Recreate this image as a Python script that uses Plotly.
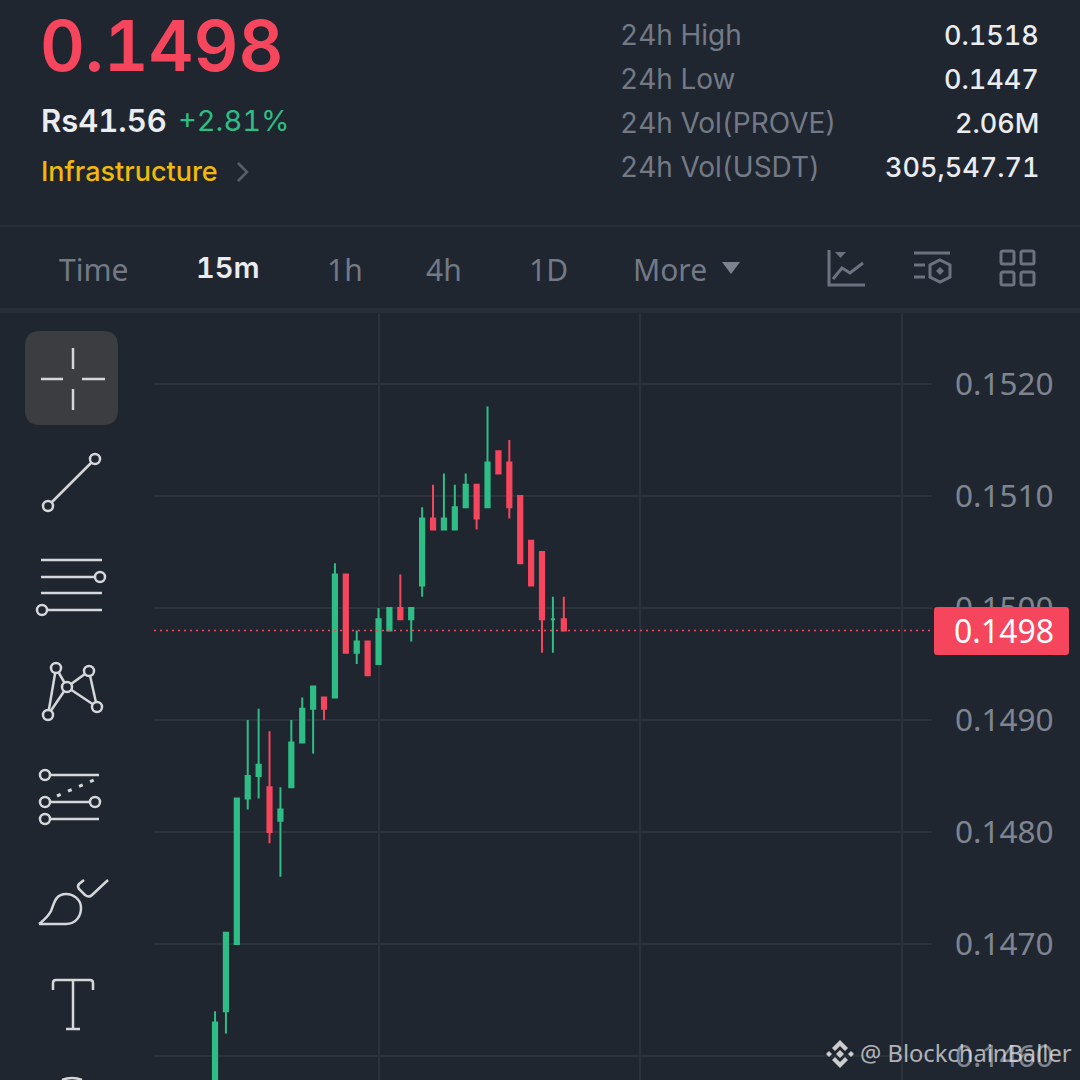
import plotly.graph_objects as go

# candle values (15m PROVE/USDT), oldest first
opens = [0.1455, 0.1464, 0.1470, 0.1483, 0.1485, 0.1484, 0.1481, 0.1484, 0.1488, 0.1491, 0.1492,
         0.1492, 0.1503, 0.1496, 0.1497, 0.1495, 0.1498, 0.1500, 0.1499, 0.1502, 0.1508, 0.1507,
         0.1507, 0.1509, 0.1511, 0.1509, 0.1514, 0.1513, 0.1510, 0.1506, 0.1505, 0.1499, 0.1499]
highs = [0.1464, 0.1471, 0.1483, 0.1490, 0.1491, 0.1489, 0.1484, 0.1490, 0.1492, 0.1493, 0.1492,
         0.1504, 0.1503, 0.1498, 0.1497, 0.1500, 0.1500, 0.1503, 0.1500, 0.1509, 0.1511, 0.1512,
         0.1511, 0.1512, 0.1511, 0.1518, 0.1514, 0.1515, 0.1510, 0.1506, 0.1505, 0.1501, 0.1501]
lows = [0.1452, 0.1462, 0.1470, 0.1482, 0.1483, 0.1479, 0.1476, 0.1484, 0.1488, 0.1487, 0.1490,
        0.1492, 0.1496, 0.1495, 0.1494, 0.1495, 0.1498, 0.1499, 0.1497, 0.1501, 0.1507, 0.1507,
        0.1507, 0.1509, 0.1507, 0.1509, 0.1512, 0.1508, 0.1504, 0.1502, 0.1496, 0.1496, 0.1498]
closes = [0.1463, 0.1471, 0.1483, 0.1485, 0.1486, 0.1480, 0.1482, 0.1488, 0.1491, 0.1493, 0.1491,
          0.1503, 0.1496, 0.1497, 0.1494, 0.1499, 0.1500, 0.1499, 0.1500, 0.1508, 0.1507, 0.1508,
          0.1509, 0.1511, 0.1508, 0.1513, 0.1512, 0.1509, 0.1504, 0.1502, 0.1499, 0.1499, 0.1498]

last_price = 0.1498
price_ticks = [0.1520, 0.1510, 0.1500, 0.1490, 0.1480, 0.1470, 0.1460]
time_grid = [15, 39, 63]

stat_names = ['24h High', '24h Low', '24h Vol(PROVE)', '24h Vol(USDT)']
stat_values = ['0.1518', '0.1447', '2.06M', '305,547.71']
intervals = ['Time', '15m', '1h', '4h', '1D', 'More']

BG = '#1f2630'
GRID = '#2b323c'
UP = '#2ebd85'
DOWN = '#f6465d'
MUTED = '#737a86'
WHITE = '#eaecef'
ICON = '#d5d7da'
TAB_ICON = '#6c7380'
HEAD = 'Inter'
BODY = 'Noto Sans'

up = [i for i in range(len(opens)) if closes[i] >= opens[i]]
down = [i for i in range(len(opens)) if closes[i] < opens[i]]


def candles(idx, color):
    return go.Candlestick(
        x=idx,
        open=[opens[i] for i in idx],
        high=[highs[i] for i in idx],
        low=[lows[i] for i in idx],
        close=[closes[i] for i in idx],
        increasing=dict(line=dict(color=color, width=2), fillcolor=color),
        decreasing=dict(line=dict(color=color, width=2), fillcolor=color),
        showlegend=False,
        hoverinfo='skip',
    )


fig = go.Figure([candles(up, UP), candles(down, DOWN)])

# page pixels to paper coordinates (page is 1080 square, no margins)
def px(x):
    return x / 1080


def py(y):
    return 1 - y / 1080


shapes = []
notes = []


def line(x0, y0, x1, y1, color=ICON, width=2.5, dash=None):
    shapes.append(dict(type='line', xref='paper', yref='paper', x0=px(x0), y0=py(y0), x1=px(x1), y1=py(y1),
                       line=dict(color=color, width=width, dash=dash), layer='above'))


def ring(x, y, r=5, color=ICON, width=2.5):
    shapes.append(dict(type='circle', xref='paper', yref='paper', x0=px(x - r), y0=py(y + r), x1=px(x + r), y1=py(y - r),
                       line=dict(color=color, width=width), fillcolor=BG, layer='above'))


def outline(cmds, color=ICON, width=2.5, fill=None):
    # cmds is a list of (letter, x, y, ...) in page pixels
    parts = []
    for c in cmds:
        nums = c[1:]
        pts = ' '.join(f'{px(nums[k])},{py(nums[k + 1])}' for k in range(0, len(nums), 2))
        parts.append(f'{c[0]} {pts}')
    shapes.append(dict(type='path', xref='paper', yref='paper', path=' '.join(parts),
                       line=dict(color=color, width=width), fillcolor=fill or 'rgba(0,0,0,0)', layer='above'))


def round_rect(x0, y0, x1, y1, r, color, width=0, fill=None):
    outline([('M', x0 + r, y0), ('L', x1 - r, y0), ('Q', x1, y0, x1, y0 + r), ('L', x1, y1 - r),
             ('Q', x1, y1, x1 - r, y1), ('L', x0 + r, y1), ('Q', x0, y1, x0, y1 - r), ('L', x0, y0 + r),
             ('Q', x0, y0, x0 + r, y0), ('Z',)], color, width, fill)


def txt(x, y, text, size, color, anchor='left', family=BODY, weight=400):
    notes.append(dict(xref='paper', yref='paper', x=px(x), y=py(y), text=text, showarrow=False,
                      xanchor=anchor, yanchor='middle', borderpad=0,
                      font=dict(size=size, color=color, family=family, weight=weight)))


# header
txt(39, 46, '0.1498', 69.5, DOWN, family=HEAD, weight=600)
txt(40, 120, 'Rs41.56', 31, WHITE, family=HEAD, weight=600)
txt(177, 120, '+2.81%', 29, UP, family=HEAD)
txt(40, 171, 'Infrastructure', 27, '#f0b90b', family=HEAD, weight=500)
outline([('M', 238, 163), ('L', 247, 172), ('L', 238, 181)], '#5a606b', 2.5)

for k, (name, val) in enumerate(zip(stat_names, stat_values)):
    txt(619, 35 + 44 * k, name, 28, MUTED, family=HEAD)
    txt(1040, 35 + 44 * k, val, 27, WHITE, anchor='right', family=HEAD, weight=500)

line(0, 226, 1080, 226, '#323842', 1)
line(0, 310.5, 1080, 310.5, '#272e38', 5)

# interval tabs
tab_x = [58, 195, 326, 425, 528, 632]
for name, x in zip(intervals, tab_x):
    if name == '15m':
        txt(x, 268, name, 29, WHITE, family=HEAD, weight=600)
    else:
        txt(x, 269, name, 30, MUTED)
outline([('M', 722, 262), ('L', 740, 262), ('L', 731, 274), ('Z',)], '#7c838f', 0, '#7c838f')

# tab icons
outline([('M', 829, 250), ('L', 829, 285), ('L', 865, 285)], TAB_ICON, 3)
outline([('M', 835, 252), ('L', 846, 252), ('L', 840.5, 258), ('Z',)], TAB_ICON, 0, TAB_ICON)
outline([('M', 833, 279), ('L', 842, 268), ('L', 850, 273), ('L', 863, 263)], TAB_ICON, 3)
line(914, 253, 950, 253, TAB_ICON, 3)
line(914, 265, 925, 265, TAB_ICON, 3)
line(914, 277, 925, 277, TAB_ICON, 3)
outline([('M', 940, 260), ('L', 950, 265), ('L', 950, 277), ('L', 940, 282), ('L', 930, 277), ('L', 930, 265), ('Z',)], TAB_ICON, 3)
outline([('M', 940, 267), ('L', 944, 271), ('L', 940, 275), ('L', 936, 271), ('Z',)], TAB_ICON, 0, TAB_ICON)
for x0 in (1001, 1021):
    for y0 in (251, 272):
        round_rect(x0, y0, x0 + 13, y0 + 13, 2, TAB_ICON, 3)

# drawing tool column
round_rect(25, 331, 118, 425, 15, '#3b3d40', 0, '#3b3d40')
line(73, 348, 73, 369)
line(73, 389, 73, 410)
line(41, 379, 63, 379)
line(82, 379, 105, 379)

line(51.5, 502.5, 91.5, 462.5)
ring(95, 459)
ring(48, 506)

line(41, 560, 102, 560)
line(41, 577, 95, 577)
ring(100, 577)
line(41, 593, 102, 593)
line(47, 610, 102, 610)
ring(42, 610)

nodes = [(56, 668), (89, 671), (67, 687), (97, 707), (48, 715)]
for a, b in [(0, 4), (0, 2), (2, 4), (2, 1), (1, 3), (2, 3)]:
    line(nodes[a][0], nodes[a][1], nodes[b][0], nodes[b][1])
for nx, ny in nodes:
    ring(nx, ny)

line(51, 775, 99, 775)
ring(45, 775)
line(51, 802, 90, 802)
ring(45, 802)
ring(95, 802)
line(51, 819, 99, 819)
ring(45, 819)
line(57, 796, 94, 780, width=3, dash='4px,8px')

outline([('M', 39, 924), ('L', 66, 924), ('C', 76, 924, 81, 916, 81, 908), ('C', 81, 899, 73, 894, 66, 894),
         ('C', 55, 894, 54, 904, 51, 911), ('C', 48, 917, 44, 920, 39, 924)])
outline([('M', 84, 880), ('L', 79, 884), ('Q', 77, 886, 79, 889), ('L', 85, 895), ('Q', 89, 898, 92, 895), ('L', 108, 880)])

outline([('M', 53, 990), ('L', 53, 983), ('Q', 53, 980, 56, 980), ('L', 90, 980), ('Q', 93, 980, 93, 983), ('L', 93, 990)])
line(73, 980, 73, 1029)
line(66, 1029, 80, 1029)
outline([('M', 62, 1080), ('Q', 72, 1076, 82, 1080)])

# last price line and tag follow the last_price value
shapes.append(dict(type='line', xref='x domain', yref='y', x0=0, x1=1, y0=last_price, y1=last_price,
                   line=dict(color=DOWN, width=1.5, dash='2px,4px'), layer='above'))
round_rect(934, 607, 1069, 655, 3, DOWN, 0, DOWN)
notes.append(dict(xref='paper', yref='y', x=px(1056), y=last_price, text=f'{last_price:.4f}', showarrow=False,
                  xanchor='right', yanchor='middle', font=dict(size=32, color='#ffffff', family=BODY)))

# watermark
MARK = 'rgba(235,235,235,0.85)'
for cx, cy, r in [(840, 1054, 4), (829, 1054, 3), (851, 1054, 3)]:
    outline([('M', cx, cy - r), ('L', cx + r, cy), ('L', cx, cy + r), ('L', cx - r, cy), ('Z',)], MARK, 0, MARK)
outline([('M', 840, 1040), ('L', 848, 1048), ('L', 845, 1051), ('L', 840, 1046), ('L', 835, 1051), ('L', 832, 1048), ('Z',)], MARK, 0, MARK)
outline([('M', 840, 1068), ('L', 848, 1060), ('L', 845, 1057), ('L', 840, 1062), ('L', 835, 1057), ('L', 832, 1060), ('Z',)], MARK, 0, MARK)
txt(859, 1052.5, '@ BlockchainBaller', 23.7, 'rgba(235,235,235,0.72)')

fig.update_layout(
    width=1080,
    height=1080,
    margin=dict(l=0, r=0, t=0, b=0),
    paper_bgcolor=BG,
    plot_bgcolor=BG,
    boxmode='overlay',
    boxgap=0.45,
    hovermode=False,
    shapes=shapes,
    annotations=notes,
    xaxis=dict(
        domain=[px(154), px(932)],
        range=[-5.6, 65.78],
        tickvals=time_grid,
        showticklabels=False,
        showgrid=True,
        gridcolor=GRID,
        gridwidth=1.5,
        zeroline=False,
        showline=False,
        rangeslider=dict(visible=False),
    ),
    yaxis=dict(
        domain=[0, py(310)],
        range=[0.1457857, 0.1526607],
        side='right',
        tickvals=price_ticks,
        tickformat='.4f',
        ticklabelstandoff=22,
        tickfont=dict(size=31.5, color='#7f8590', family=BODY),
        showgrid=True,
        gridcolor=GRID,
        gridwidth=1.5,
        zeroline=False,
        showline=False,
    ),
)

# tabular digits like the app's font. plotly caches text sizes, so nudge the
# font sizes a hair to make it measure the annotations again
page_js = """
document.body.style.margin = '0';
document.body.style.overflow = 'hidden';
document.head.insertAdjacentHTML('beforeend', '<style>.annotation-text{font-feature-settings:"tnum" 1}</style>');
var gd = document.getElementById('{plot_id}');
gd.layout.annotations.forEach(function(a) { a.font.size += 0.01; });
Plotly.relayout(gd, {annotations: gd.layout.annotations});
"""

fig.write_html("out.html", post_script=page_js, config=dict(displayModeBar=False))
